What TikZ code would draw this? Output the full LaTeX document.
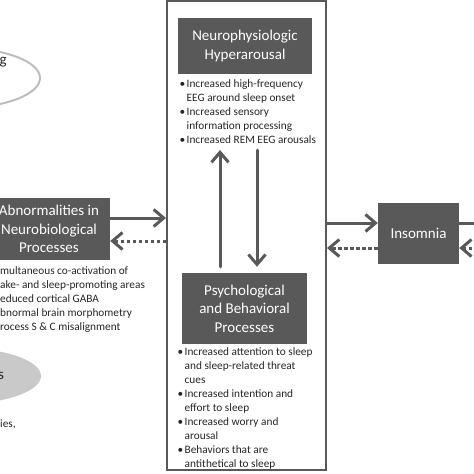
\documentclass[tikz,border=0pt]{standalone}
\usepackage{fontspec}
\setmainfont{Carlito}
\usetikzlibrary{arrows.meta}
\definecolor{boxgray}{HTML}{595959}
\definecolor{ringgray}{HTML}{BDBDBD}
\definecolor{blobgray}{HTML}{C9C9C9}
\definecolor{textgray}{HTML}{262626}
\newcommand{\titlefont}{\fontsize{15}{18.5}\selectfont}
\newcommand{\listfont}{\fontsize{11.3}{14}\selectfont}
\newcommand{\bul}{\makebox[7pt][l]{•}}
\newcommand{\ind}{\hspace*{7pt}}
\newcommand{\picsize}{474}
\tikzset{
  darkbox/.style={fill=boxgray, text=white, font=\titlefont, align=center, inner sep=0pt},
  listtext/.style={anchor=north west, align=left, font=\listfont, text=textgray, inner sep=0pt},
  solidarrow/.style={draw=boxgray, line width=3pt, line cap=round, line join=round,
    -{Straight Barb[length=10pt,width=17pt]}},
  dottedarrow/.style={solidarrow, line cap=butt, dash pattern=on 3.5pt off 2.5pt},
}

\begin{document}
\begin{tikzpicture}[x=1pt,y=-1pt]
    \useasboundingbox (0,0) rectangle (\picsize,\picsize);
    \clip (0,0) rectangle (\picsize,\picsize);
    % left ellipses
    \draw[ringgray, line width=2pt] (-40,78) ellipse [x radius=80, y radius=30];
    \node[font=\titlefont, text=textgray, anchor=west, inner sep=0pt] (ringtext) at (-0.5,62) {g};
    \fill[blobgray] (-40,376) ellipse [x radius=81, y radius=28];
    \node[font=\titlefont, text=textgray, anchor=west, inner sep=0pt] (blobtext) at (-2,376) {s};
    \node[listtext] (blobnote) at (0,420) {ies,};
    % neurobiological part
    \node[darkbox, minimum width=122pt, minimum height=62pt] (abnormal) at (49,229)
      {Abnormalities in\\Neurobiological\\Processes};
    \node[listtext] (abnormallist) at (0,266.5)
      {multaneous co-activation of\\ake- and sleep-promoting areas\\educed cortical GABA\\
       bnormal brain morphometry\\rocess S \& C misalignment};
    % central frame
    \node[draw=boxgray, line width=2pt, minimum width=159pt, minimum height=469pt, inner sep=0pt]
      (frame) at (246.5,235.5) {};
    \node[darkbox, minimum width=134pt, minimum height=56pt] (neuro) at (245,46)
      {Neurophysiologic\\Hyperarousal};
    \node[listtext] (neurolist) at (179.5,79.5)
      {\bul Increased high-frequency\\\ind EEG around sleep onset\\
       \bul Increased sensory\\\ind information processing\\
       \bul Increased REM EEG arousals};
    \node[darkbox, minimum width=125pt, minimum height=71pt] (psych) at (244.5,308.5)
      {Psychological\\and Behavioral\\Processes};
    \node[listtext] (psychlist) at (177.5,347.5)
      {\bul Increased attention to sleep\\\ind and sleep-related threat\\\ind cues\\
       \bul Increased intention and\\\ind effort to sleep\\
       \bul Increased worry and\\\ind arousal\\
       \bul Behaviors that are\\\ind antithetical to sleep};
    % insomnia part
    \node[darkbox, minimum width=81pt, minimum height=61pt] (insomnia) at (418.5,233.5) {Insomnia};
    \coordinate (uptip) at (220,150);
    \coordinate (downtop) at (257,150);
    \coordinate (offright) at (490,0);
    % arrows
    \draw[solidarrow, shorten <=6pt] (psych.north -| uptip) -- (uptip);
    \draw[solidarrow, shorten >=6pt] (downtop) -- (psych.north -| downtop);
    \draw[solidarrow] ([yshift=11pt]abnormal.east) -- ([yshift=11pt]abnormal.east -| frame.west);
    \draw[dottedarrow] ([yshift=-12pt]abnormal.east -| frame.west) -- ([yshift=-12pt]abnormal.east);
    \draw[solidarrow] ([yshift=10.5pt]insomnia.west -| frame.east) -- ([yshift=10.5pt]insomnia.west);
    \draw[dottedarrow] ([yshift=-14.5pt]insomnia.west) -- ([yshift=-14.5pt]insomnia.west -| frame.east);
    \draw[solidarrow, -] ([yshift=10.5pt]insomnia.east) -- ([yshift=10.5pt]insomnia.east -| offright);
    \draw[dottedarrow] ([yshift=-14.5pt]insomnia.east -| offright) -- ([yshift=-14.5pt]insomnia.east);
\end{tikzpicture}
\end{document}
